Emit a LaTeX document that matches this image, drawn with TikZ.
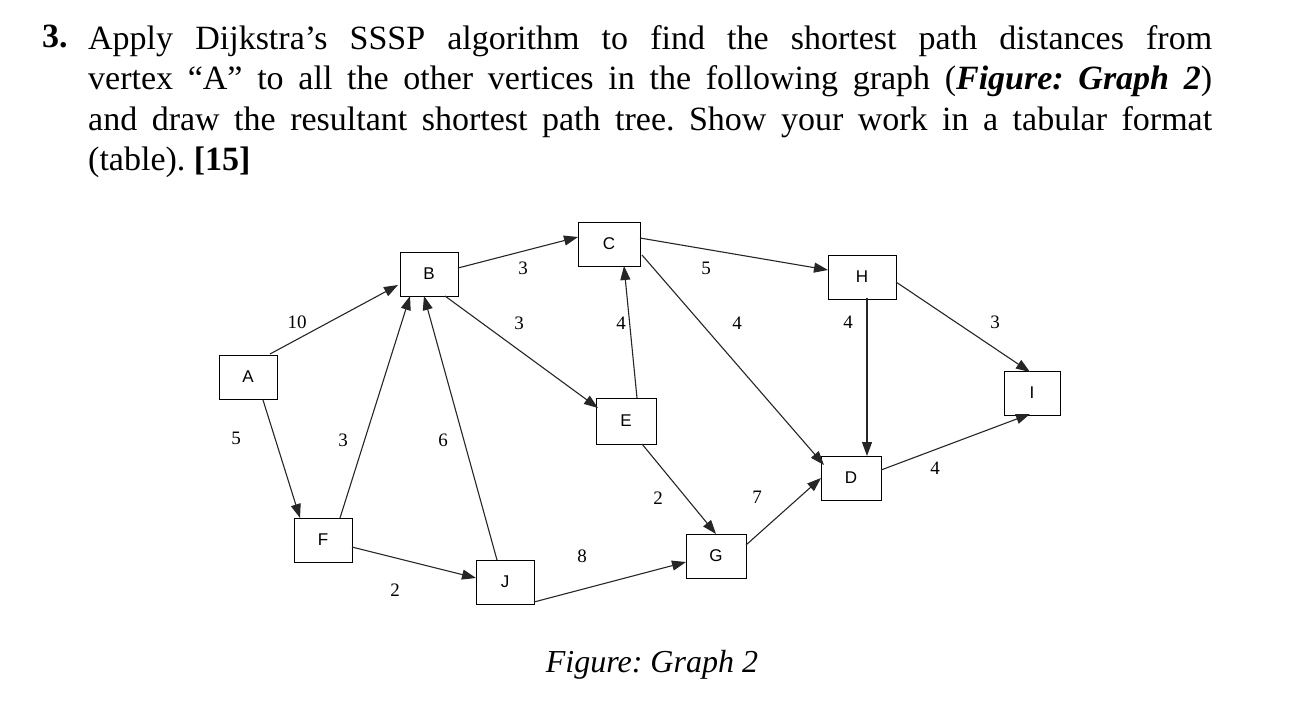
\documentclass[tikz,border=0pt]{standalone}
\usepackage{fontspec}
\setmainfont{Liberation Serif}
\newfontfamily\sansf{Liberation Sans}
\usetikzlibrary{arrows.meta,calc}
\begin{document}
\frenchspacing
\begin{tikzpicture}[x=1pt,y=-1pt,
 box/.style={draw,line width=1pt,minimum width=58pt,minimum height=44pt,inner sep=0pt,font=\sansf\fontsize{17}{19}\selectfont},
 ed/.style={draw=black!85,line width=1.1pt,-{Triangle[length=14pt,width=10pt]}},
 lab/.style={font=\fontsize{19}{21}\selectfont,inner sep=0pt}]
\useasboundingbox (0,0) rectangle (1295,725);
\node[anchor=north west,inner sep=0pt,font=\fontsize{34}{40.5}\selectfont\bfseries] (num) at (42,25) {3.};
\node[anchor=north west,inner sep=0pt,text width=1124pt,align=justify,font=\fontsize{34}{40.5}\selectfont] (q) at (88,25)
 {Apply Dijkstra’s SSSP algorithm to find the shortest path distances from\linebreak vertex “A” to all the other vertices in the following graph (\textbf{\textit{Figure: Graph 2}})\linebreak and draw the resultant shortest path tree. Show your work in a tabular format\linebreak (table). \textbf{[15]}};
\node[box] (A) at (248,377) {A};
\node[box] (B) at (429,274) {B};
\node[box,minimum width=62pt] (C) at (609,244) {C};
\node[box,minimum width=68pt] (H) at (862,277) {H};
\node[box,minimum width=56pt] (I) at (1032,393) {I};
\node[box,minimum width=60pt,minimum height=46pt] (E) at (626,421) {E};
\node[box,minimum width=60pt] (D) at (851,478) {D};
\node[box,minimum width=60pt] (G) at (716,556) {G};
\node[box] (F) at (323,540) {F};
\node[box] (J) at (505,582) {J};
\draw[ed] ($(A)+(22,-23)$) -- ($(B)+(-31,11)$);
\draw[ed] ($(A)+(15,23)$) -- ($(F)+(-23,-22)$);
\draw[ed] ($(F)+(17,-22)$) -- ($(B)+(-19,22)$);
\draw[ed] ($(J)+(-8,-22)$) -- ($(B)+(-5,22)$);
\draw[ed] ($(B)+(29,-6)$) -- ($(C)+(-31,-7)$);
\draw[ed] ($(B)+(16,22)$) -- ($(E)+(-28,-13)$);
\draw[ed] ($(E)+(11,-23)$) -- ($(C)+(15,22)$);
\draw[ed] ($(C)+(31,-6)$) -- ($(H)+(-34,-7)$);
\draw[ed] ($(C)+(33,11)$) -- ($(D)+(-27,-13)$);
\draw[ed] ($(H)+(5,21)$) -- ($(D)+(16,-22)$);
\draw[ed] ($(H)+(34,5)$) -- ($(I)+(-2,-21)$);
\draw[ed] ($(D)+(30,-8)$) -- ($(I)+(-2,21)$);
\draw[ed] ($(E)+(16,23)$) -- ($(G)+(0,-22)$);
\draw[ed] ($(G)+(30,-11)$) -- ($(D)+(-30,0)$);
\draw[ed] ($(F)+(29,7)$) -- ($(J)+(-29,-4)$);
\draw[ed] ($(J)+(29,20)$) -- ($(G)+(-30,6)$);
\node[lab] (l1) at (297,322) {10};
\node[lab] (l2) at (236,438) {5};
\node[lab] (l3) at (343,440) {3};
\node[lab] (l4) at (443,440) {6};
\node[lab] (l5) at (523,268) {3};
\node[lab] (l6) at (519,323) {3};
\node[lab] (l7) at (621,323) {4};
\node[lab] (l8) at (706,268) {5};
\node[lab] (l9) at (737,323) {4};
\node[lab] (l10) at (848,322) {4};
\node[lab] (l11) at (995,322) {3};
\node[lab] (l12) at (935,468) {4};
\node[lab] (l13) at (658,498) {2};
\node[lab] (l14) at (757,497) {7};
\node[lab] (l15) at (395,590) {2};
\node[lab] (l16) at (582,556) {8};
\node[font=\fontsize{32}{36}\selectfont\itshape] (cap) at (652,665) {Figure: Graph 2};
\end{tikzpicture}
\end{document}
